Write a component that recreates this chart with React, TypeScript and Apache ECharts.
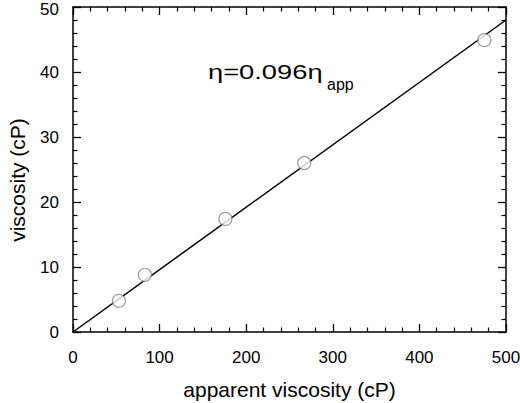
import React, { useEffect, useRef } from "react";
import * as echarts from "echarts";

const apparentViscosity = [53, 83, 176, 267, 475];
const viscosity = [4.8, 8.8, 17.4, 26.0, 44.9];
const fitSlope = 0.096;
const fitRange = [0, 500];
const xTicks = { min: 0, max: 500, interval: 100 };
const yTicks = { min: 0, max: 50, interval: 10 };
const xName = "apparent viscosity (cP)";
const yName = "viscosity (cP)";
const equationMain = "η=0.096η";
const equationSub = "app";

const FONT = "Liberation Sans, Arial, sans-serif";

export default function App() {
  const ref = useRef<HTMLDivElement>(null);
  useEffect(() => {
    if (!ref.current) return;
    const chart = echarts.init(ref.current, null, { renderer: "svg" });
    const axisBase = {
      type: "value" as const,
      axisLine: { show: true, onZero: false, lineStyle: { color: "#000", width: 1.5 } },
      axisTick: { show: true, inside: true, length: 8, lineStyle: { color: "#000", width: 1.3 } },
      minorTick: { show: true, splitNumber: 5, length: 4.5, lineStyle: { color: "#000", width: 1.2 } },
      splitLine: { show: false },
    };
    const labelStyle = { fontFamily: FONT, fontSize: 17, lineHeight: 14, color: "#000" };
    chart.setOption({
      animation: false,
      backgroundColor: "#fff",
      grid: {
        left: 73,
        right: 14,
        top: 7,
        bottom: 71,
        containLabel: false,
        outerBoundsMode: "none",
      },
      xAxis: [
        {
          ...axisBase,
          ...xTicks,
          position: "bottom",
          name: xName,
          nameLocation: "middle",
          nameGap: 47,
          nameTextStyle: { fontFamily: FONT, fontSize: 21, lineHeight: 21, color: "#000" },
          axisLabel: { ...labelStyle, margin: 18 },
        },
        {
          ...axisBase,
          ...xTicks,
          position: "top",
          axisLabel: { show: false },
        },
      ],
      yAxis: [
        {
          ...axisBase,
          ...yTicks,
          position: "left",
          axisLabel: {
            ...labelStyle,
            margin: 14,
            formatter: (v: number) => (v === yTicks.max ? `{top|${v}}` : `${v}`),
            rich: { top: { ...labelStyle, padding: [5, 0, 0, 0] } },
          },
        },
        {
          ...axisBase,
          ...yTicks,
          position: "right",
          axisLabel: { show: false },
        },
      ],
      graphic: [
        {
          type: "text",
          x: 17,
          y: 180,
          rotation: Math.PI / 2,
          style: {
            text: yName,
            font: `21px ${FONT}`,
            fill: "#000",
            align: "center",
            verticalAlign: "middle",
          },
        },
        {
          type: "text",
          x: 208,
          y: 71.7,
          scaleX: 1.3,
          style: {
            text: equationMain,
            font: `21px ${FONT}`,
            fill: "#000",
            align: "left",
            verticalAlign: "middle",
          },
        },
        {
          type: "text",
          x: 327,
          y: 84.5,
          style: {
            text: equationSub,
            font: `16px ${FONT}`,
            fill: "#000",
            align: "left",
            verticalAlign: "middle",
          },
        },
      ],
      series: [
        {
          type: "line",
          data: fitRange.map((x) => [x, fitSlope * x]),
          showSymbol: false,
          symbol: "none",
          lineStyle: { color: "#000", width: 1.5 },
          z: 2,
        },
        {
          type: "scatter",
          data: apparentViscosity.map((x, i) => [x, viscosity[i]]),
          symbol: "circle",
          symbolSize: 13,
          itemStyle: { color: "#fff", borderColor: "#808080", borderWidth: 1.2 },
          z: 3,
        },
      ],
    });
    return () => chart.dispose();
  }, []);
  return (
    <div
      ref={ref}
      style={{ position: "absolute", left: 0, top: 0, width: 520, height: 403 }}
    />
  );
}
